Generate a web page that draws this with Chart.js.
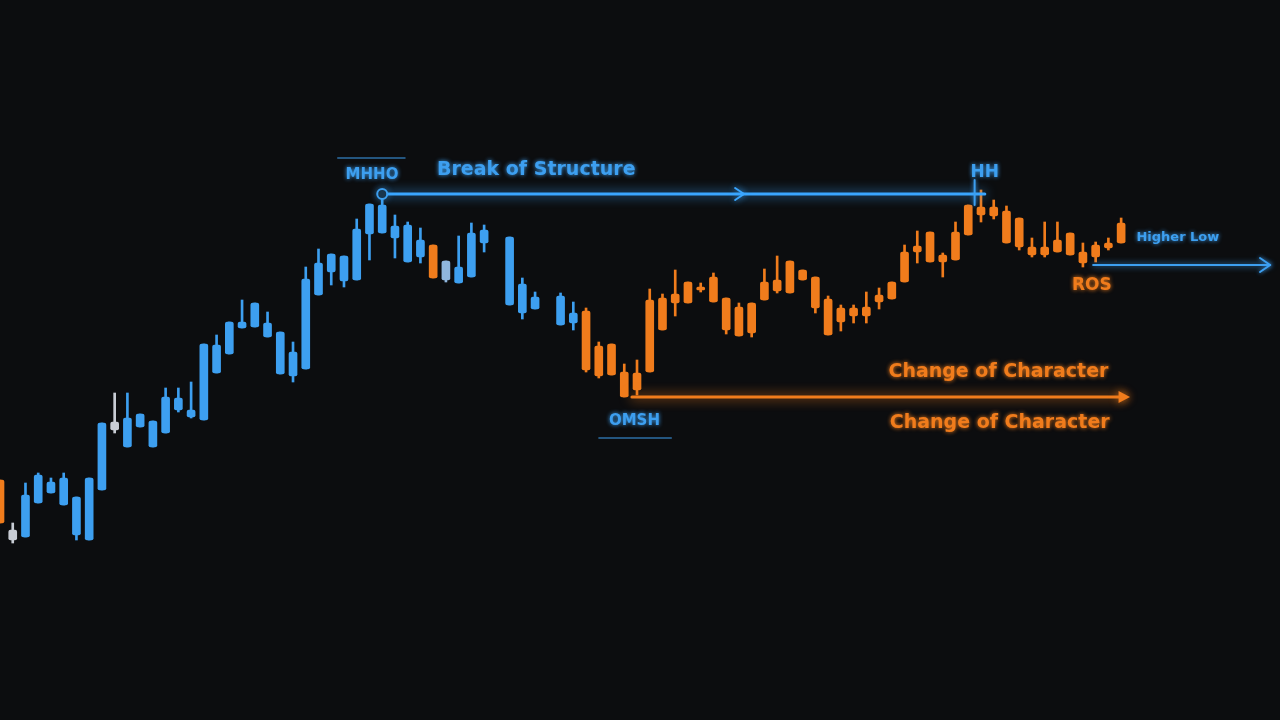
<!DOCTYPE html>
<html lang="en">

<head>
  <meta charset="utf-8">
  <title>Break of Structure</title>
  <style>
    html, body { margin: 0; padding: 0; background: #0c0d0f; overflow: hidden; }
  </style>
</head>

<body>
  <canvas id="myChart" width="1280" height="720"></canvas>

  <script src="https://cdn.jsdelivr.net/npm/chart.js@4/dist/chart.umd.min.js"></script>
  <script>
    // one entry per time slot, null = empty slot
    var side = ['o', 'w', 'b', 'b', 'b', 'b', 'b', 'b', 'b', 'w',
      'b', 'b', 'b', 'b', 'b', 'b', 'b', 'b', 'b', 'b',
      'b', 'b', 'b', 'b', 'b', 'b', 'b', 'b', 'b', 'b',
      'b', 'b', 'b', 'b', 'o', 'g', 'b', 'b', 'b', null,
      'b', 'b', 'b', null, 'b', 'b', 'o', 'o', 'o', 'o',
      'o', 'o', 'o', 'o', 'o', 'o', 'o', 'o', 'o', 'o',
      'o', 'o', 'o', 'o', 'o', 'o', 'o', 'o', 'o', 'o',
      'o', 'o', 'o', 'o', 'o', 'o', 'o', 'o', 'o', 'o',
      'o', 'o', 'o', 'o', 'o', 'o', 'o', 'o', 'o'];
    var high = [24.0, 19.7, 23.7, 24.7, 24.2, 24.7, 22.3, 24.2, 29.7, 32.7,
      32.7, 30.6, 29.9, 33.2, 33.2, 33.8, 37.6, 38.5, 39.8, 42.0,
      41.7, 40.8, 38.8, 37.8, 45.3, 47.1, 46.6, 46.4, 50.1, 51.6,
      52.2, 50.5, 49.8, 49.2, 47.5, 45.9, 48.4, 49.7, 49.5, null,
      48.3, 44.2, 42.8, null, 42.7, 41.8, 41.2, 37.8, 37.6, 35.6,
      36.0, 43.1, 42.6, 45.0, 43.8, 43.7, 44.7, 42.2, 41.7, 41.7,
      45.1, 46.4, 45.9, 45.0, 44.3, 42.4, 41.5, 41.5, 42.8, 43.2,
      43.8, 47.5, 48.9, 48.8, 46.7, 49.8, 51.5, 53.0, 52.0, 51.4,
      50.2, 48.2, 49.8, 49.8, 48.7, 47.7, 47.8, 48.2, 50.2];
    var close = [24.0, 19.0, 22.5, 24.5, 23.8, 24.2, 22.3, 24.2, 29.7, 29.8,
      30.2, 30.6, 29.9, 32.3, 32.2, 31.0, 37.6, 37.5, 39.8, 39.8,
      41.7, 39.7, 38.8, 36.8, 44.1, 45.7, 46.6, 46.4, 49.1, 51.6,
      51.5, 49.4, 49.5, 48.0, 47.5, 45.9, 45.3, 48.7, 49.0, null,
      48.3, 43.6, 42.3, null, 42.4, 40.7, 40.9, 37.4, 37.6, 34.8,
      34.7, 42.0, 42.2, 42.6, 43.8, 43.3, 44.3, 42.2, 41.3, 41.7,
      43.8, 44.0, 45.9, 45.0, 44.3, 42.1, 41.2, 41.2, 41.3, 42.5,
      43.8, 46.8, 47.4, 48.8, 46.5, 48.8, 51.5, 51.3, 51.3, 50.9,
      50.2, 47.3, 47.3, 48.0, 48.7, 46.8, 47.5, 47.7, 49.7];
    var open = [19.7, 18.0, 18.3, 21.7, 22.7, 21.5, 18.5, 18.0, 23.0, 29.0,
      27.3, 29.3, 27.3, 28.7, 31.0, 30.3, 30.0, 34.7, 36.6, 39.2,
      39.3, 38.3, 34.6, 34.4, 35.1, 42.5, 44.8, 43.9, 44.0, 48.6,
      48.7, 48.2, 45.8, 46.3, 44.2, 44.0, 43.7, 44.3, 47.7, null,
      41.5, 40.7, 41.1, null, 39.5, 39.7, 35.0, 34.4, 34.5, 32.3,
      33.0, 34.8, 39.0, 41.7, 41.7, 43.0, 41.8, 39.0, 38.4, 38.7,
      42.0, 42.9, 42.7, 44.0, 41.2, 38.5, 39.8, 40.4, 40.4, 41.8,
      42.1, 43.8, 46.8, 45.8, 45.8, 46.0, 48.5, 50.5, 50.4, 47.7,
      47.3, 46.5, 46.5, 46.8, 46.5, 45.7, 46.3, 47.2, 47.7];
    var low = [19.7, 17.7, 18.3, 21.7, 22.7, 21.5, 18.0, 18.0, 23.0, 28.7,
      27.3, 29.3, 27.3, 28.7, 30.8, 30.2, 30.0, 34.7, 36.6, 39.2,
      39.3, 38.3, 34.6, 33.8, 35.1, 42.5, 43.5, 43.3, 44.0, 46.0,
      48.7, 46.2, 45.8, 45.7, 44.2, 43.8, 43.7, 44.3, 46.8, null,
      41.5, 40.1, 41.1, null, 39.5, 39.0, 34.8, 34.2, 34.5, 32.3,
      32.5, 34.8, 39.0, 40.4, 41.7, 42.8, 41.8, 38.6, 38.4, 38.3,
      42.0, 42.7, 42.7, 44.0, 40.7, 38.5, 38.9, 39.7, 39.7, 41.1,
      42.1, 43.8, 45.7, 45.8, 44.3, 46.0, 48.5, 49.8, 50.1, 47.7,
      47.0, 46.3, 46.3, 46.8, 46.5, 45.3, 45.8, 47.0, 47.7];

    // structure levels (price)
    var bosLevel = 52.6;
    var chochLevel = 32.3;
    var higherLowLevel = 45.5;

    var blue = '#3d9ff0';
    var orange = '#f07c1c';
    var palette = { b: blue, o: orange, w: '#c8ccd4', g: '#8fb6de' };

    var bodies = [], wicks = [], colors = [];
    for (var i = 0; i < side.length; i++) {
      if (side[i] == null) continue;
      bodies.push({ x: i, y: [open[i], close[i]] });
      wicks.push({ x: i, y: [low[i], high[i]] });
      colors.push(palette[side[i]]);
    }

    var notes = {
      id: 'notes',
      afterDatasetsDraw: function (chart) {
        var c = chart.ctx;
        var X = function (v) { return chart.scales.x.getPixelForValue(v); };
        var Y = function (v) { return chart.scales.y.getPixelForValue(v); };

        function line(pts, color, w, glow) {
          c.save();
          c.strokeStyle = color;
          c.lineWidth = w;
          c.lineCap = 'round';
          c.lineJoin = 'round';
          c.shadowColor = color;
          c.shadowBlur = glow;
          c.beginPath();
          c.moveTo(pts[0], pts[1]);
          for (var k = 2; k < pts.length; k += 2) c.lineTo(pts[k], pts[k + 1]);
          c.stroke();
          c.restore();
        }
        function text(s, x, y, color, size, align) {
          c.save();
          c.font = 'bold ' + size + 'px "DejaVu Sans"';
          c.fillStyle = color;
          c.textAlign = align;
          c.textBaseline = 'middle';
          c.shadowColor = color;
          c.shadowBlur = 4;
          c.fillText(s, x, y);
          c.restore();
        }

        // break of structure
        var yb = Y(bosLevel);
        line([X(30), yb, X(77.3), yb], '#3aa6ff', 3, 12);
        line([X(57.7), yb - 6, X(58.4), yb, X(57.7), yb + 6], '#3aa6ff', 2, 6);
        line([X(76.5), Y(54.0), X(76.5), Y(51.5)], blue, 2, 4);
        c.save();
        c.beginPath();
        c.arc(X(30), yb, 5, 0, Math.PI * 2);
        c.fillStyle = '#0c0d0f';
        c.fill();
        c.strokeStyle = blue;
        c.lineWidth = 2;
        c.shadowColor = blue;
        c.shadowBlur = 6;
        c.stroke();
        c.restore();
        line([X(26.5), Y(56.2), X(31.8), Y(56.2)], blue, 1, 0);
        text('MHHO', X(29.2), Y(54.5), blue, 15, 'center');
        text('Break of Structure', X(34.3), Y(55.0), blue, 19, 'left');
        text('HH', X(77.3), Y(54.7), blue, 17, 'center');

        // higher low
        var yh = Y(higherLowLevel);
        line([X(85.8), yh, X(99.7), yh], blue, 2, 6);
        line([X(98.9), yh - 7, X(99.7), yh, X(98.9), yh + 7], blue, 2, 4);
        text('Higher Low', X(89.2), Y(48.2), blue, 13, 'left');
        text('ROS', X(85.7), Y(43.4), orange, 17, 'center');

        // change of character
        var yc = Y(chochLevel);
        line([X(49.6), yc, X(88.2), yc], orange, 3, 12);
        c.save();
        c.beginPath();
        c.moveTo(X(88.7), yc);
        c.lineTo(X(87.8), yc - 6);
        c.lineTo(X(87.8), yc + 6);
        c.closePath();
        c.fillStyle = orange;
        c.shadowColor = orange;
        c.shadowBlur = 8;
        c.fill();
        c.restore();
        text('Change of Character', X(87.0), Y(34.8), orange, 19, 'right');
        text('Change of Character', X(87.1), Y(29.7), orange, 19, 'right');
        text('OMSH', X(49.8), Y(29.9), blue, 15, 'center');
        line([X(47.0), Y(28.2), X(52.7), Y(28.2)], blue, 1, 0);
      }
    };

    var ctx = document.getElementById('myChart').getContext('2d');
    var chart = new Chart(ctx, {
      type: 'bar',
      data: {
        datasets: [{
          label: 'wick',
          data: wicks,
          backgroundColor: colors,
          barThickness: 2,
          grouped: false,
          order: 2
        }, {
          label: 'body',
          data: bodies,
          backgroundColor: colors,
          barThickness: 8,
          borderRadius: 2,
          borderSkipped: false,
          grouped: false,
          order: 1
        }]
      },
      options: {
        responsive: false,
        animation: false,
        layout: { padding: 0 },
        plugins: {
          legend: { display: false },
          tooltip: { enabled: false }
        },
        scales: {
          x: { type: 'linear', min: 0, max: 100.47, offset: false, display: false },
          y: { min: 0, max: 72, display: false }
        }
      },
      plugins: [notes]
    });
  </script>
</body>

</html>
